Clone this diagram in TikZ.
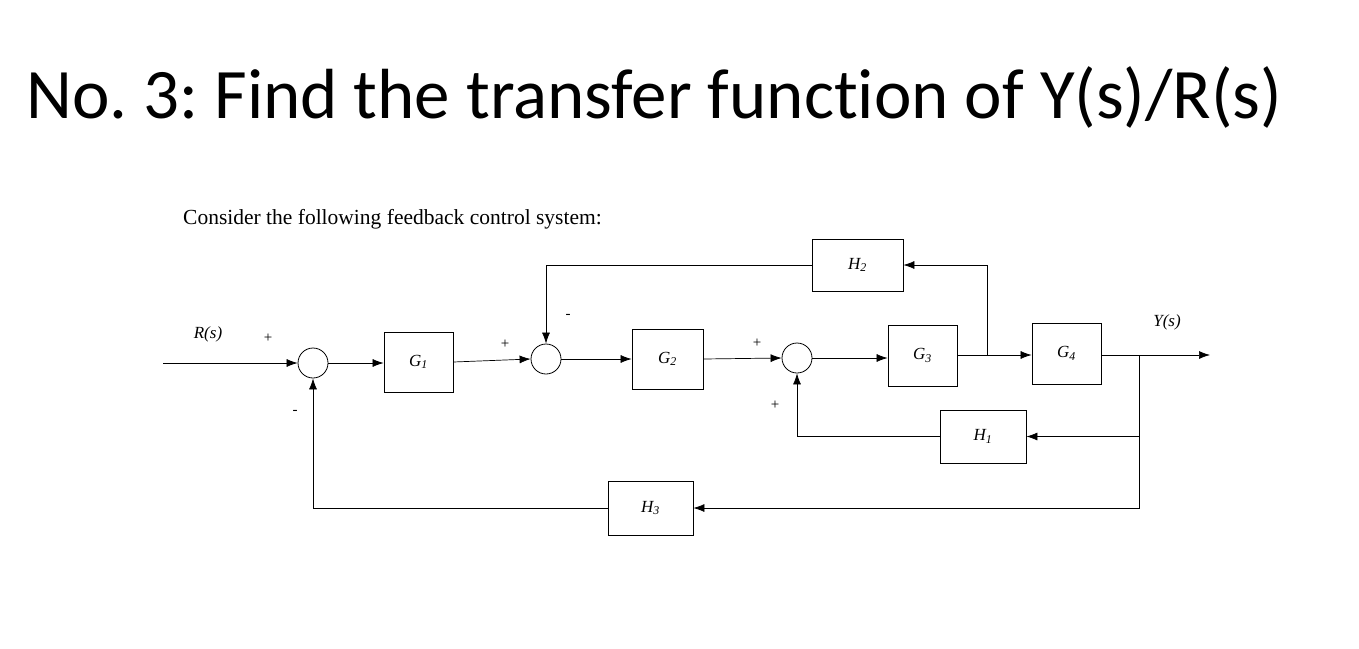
\documentclass[tikz,border=0pt]{standalone}
\usepackage{fontspec}
\setmainfont{Liberation Serif}
\newfontfamily\titlefont{Carlito}[Ligatures=NoCommon]
\usetikzlibrary{arrows.meta}
\frenchspacing
\begin{document}
\begin{tikzpicture}[x=1pt,y=-1pt,
 blk/.style={draw,line width=0.8pt,inner sep=0pt,font=\itshape\fontsize{17}{17}\selectfont},
 sum/.style={draw,circle,line width=0.8pt,minimum size=30pt,inner sep=0pt},
 ln/.style={line width=0.7pt},
 ar/.style={ln,-{Latex[length=11pt,width=8pt]}},
 lab/.style={font=\fontsize{15}{15}\selectfont}]
\useasboundingbox (0,0) rectangle (1359,648);
\node[anchor=base west,inner sep=0pt,font=\titlefont\fontsize{71}{71}\selectfont] (title) at (26,118) {No. 3: Find the transfer function of Y(s)/R(s)};
\node[anchor=base west,inner sep=0pt,font=\fontsize{21.5}{21.5}\selectfont] (cons) at (183,224) {Consider the following feedback control system:};
\node[sum] (s1) at (313,363) {};
\node[sum] (s2) at (546,359) {};
\node[sum] (s3) at (797,358) {};
\node[blk,minimum width=69pt,minimum height=60pt] (G1) at (418.5,362) {G\textsubscript{1}};
\node[blk,minimum width=71pt,minimum height=60pt] (G2) at (667.5,359) {G\textsubscript{2}};
\node[blk,minimum width=69pt,minimum height=61pt] (G3) at (922.5,355.5) {G\textsubscript{3}};
\node[blk,minimum width=69pt,minimum height=61pt] (G4) at (1066.5,353.5) {G\textsubscript{4}};
\node[blk,minimum width=91pt,minimum height=52pt] (H2) at (857.5,265) {H\textsubscript{2}};
\node[blk,minimum width=86pt,minimum height=53pt] (H1) at (983,436.5) {H\textsubscript{1}};
\node[blk,minimum width=85pt,minimum height=54pt] (H3) at (650.5,508) {H\textsubscript{3}};
\coordinate (in) at (163,363);
\coordinate (out) at (1210,355);
\coordinate (b1) at (987,355);
\coordinate (b2) at (1139,355);
\draw[ar] (in) -- (s1.west);
\draw[ar] (s1.east) -- (G1.west |- s1.east);
\draw[ar] (G1.east) -- (s2.west);
\draw[ar] (s2.east) -- (G2.west |- s2.east);
\draw[ar] (G2.east) -- (s3.west);
\draw[ar] (s3.east) -- (G3.west |- s3.east);
\draw[ar] (G3.east |- b1) -- (G4.west |- b1);
\draw[ar] (G4.east |- b2) -- (out);
\draw[ar] (b1) |- (H2.east);
\draw[ar] (H2.west) -| (s2.north);
\draw[ar] (b2) |- (H1.east);
\draw[ar] (H1.west) -| (s3.south);
\draw[ar] (b2) |- (H3.east);
\draw[ar] (H3.west) -| (s1.south);
\node[font=\itshape\fontsize{17}{17}\selectfont] (rs) at (208,334) {R(s)};
\node[font=\itshape\fontsize{17}{17}\selectfont] (ys) at (1167,322) {Y(s)};
\node[lab] (p1) at (268,338) {+};
\node[lab] (p2) at (505,344) {+};
\node[lab] (p3) at (757,343) {+};
\node[lab] (p4) at (775,405) {+};
\node[lab] (m1) at (295,412) {-};
\node[lab] (m2) at (568,316) {-};
\end{tikzpicture}
\end{document}
